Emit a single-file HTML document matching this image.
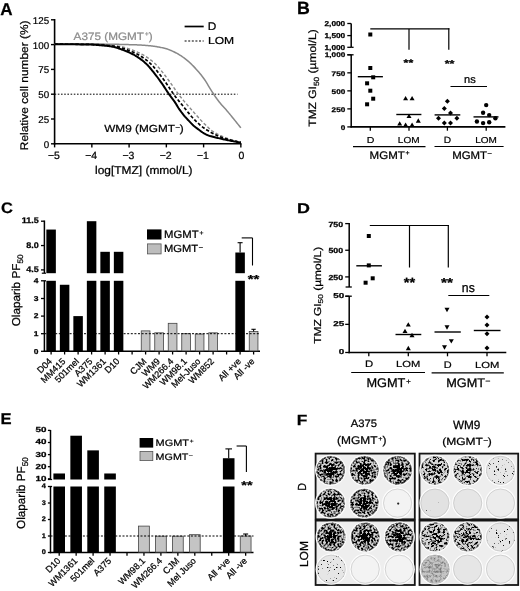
<!DOCTYPE html>
<html><head><meta charset="utf-8"><title>Figure</title>
<style>html,body{margin:0;padding:0;background:#fff;width:520px;height:591px;overflow:hidden}svg{display:block}text{font-family:"Liberation Sans",Arial,Helvetica,sans-serif;text-rendering:geometricPrecision}</style>
</head><body>
<svg width="520" height="591" viewBox="0 0 520 591"><defs><radialGradient id="rgD" cx="0.5" cy="0.5" r="0.5"><stop offset="0" stop-opacity="1"/><stop offset="0.35" stop-opacity="0.75"/><stop offset="0.6" stop-opacity="0.45"/><stop offset="0.85" stop-opacity="0.45"/><stop offset="1" stop-opacity="0.85"/></radialGradient><clipPath id="cc" clipPathUnits="objectBoundingBox"><circle cx="0.5" cy="0.5" r="0.5"/></clipPath><filter id="f1" x="315.2" y="454.9" width="30.8" height="30.8" filterUnits="userSpaceOnUse" color-interpolation-filters="sRGB"><feTurbulence type="fractalNoise" baseFrequency="0.5" numOctaves="3" seed="2" result="n"/><feColorMatrix in="n" type="matrix" values="0 0 0 0 0 0 0 0 0 0 0 0 0 0 0 1 0 0 0 0" result="na"/><feComposite in="na" in2="SourceAlpha" operator="arithmetic" k1="0" k2="1" k3="0.34" k4="0"/><feComponentTransfer><feFuncA type="linear" slope="6" intercept="-3.570"/></feComponentTransfer><feGaussianBlur stdDeviation="0.4"/></filter><filter id="f2" x="348.9" y="454.9" width="30.8" height="30.8" filterUnits="userSpaceOnUse" color-interpolation-filters="sRGB"><feTurbulence type="fractalNoise" baseFrequency="0.5" numOctaves="3" seed="3" result="n"/><feColorMatrix in="n" type="matrix" values="0 0 0 0 0 0 0 0 0 0 0 0 0 0 0 1 0 0 0 0" result="na"/><feComposite in="na" in2="SourceAlpha" operator="arithmetic" k1="0" k2="1" k3="0.34" k4="0"/><feComponentTransfer><feFuncA type="linear" slope="6" intercept="-3.570"/></feComponentTransfer><feGaussianBlur stdDeviation="0.4"/></filter><filter id="f3" x="382.2" y="454.9" width="30.8" height="30.8" filterUnits="userSpaceOnUse" color-interpolation-filters="sRGB"><feTurbulence type="fractalNoise" baseFrequency="0.5" numOctaves="3" seed="4" result="n"/><feColorMatrix in="n" type="matrix" values="0 0 0 0 0 0 0 0 0 0 0 0 0 0 0 1 0 0 0 0" result="na"/><feComposite in="na" in2="SourceAlpha" operator="arithmetic" k1="0" k2="1" k3="0.34" k4="0"/><feComponentTransfer><feFuncA type="linear" slope="6" intercept="-3.570"/></feComponentTransfer><feGaussianBlur stdDeviation="0.4"/></filter><filter id="f4" x="315.2" y="487.7" width="30.8" height="30.8" filterUnits="userSpaceOnUse" color-interpolation-filters="sRGB"><feTurbulence type="fractalNoise" baseFrequency="0.5" numOctaves="3" seed="5" result="n"/><feColorMatrix in="n" type="matrix" values="0 0 0 0 0 0 0 0 0 0 0 0 0 0 0 1 0 0 0 0" result="na"/><feComposite in="na" in2="SourceAlpha" operator="arithmetic" k1="0" k2="1" k3="0.34" k4="0"/><feComponentTransfer><feFuncA type="linear" slope="6" intercept="-3.570"/></feComponentTransfer><feGaussianBlur stdDeviation="0.4"/></filter><filter id="f5" x="348.9" y="487.7" width="30.8" height="30.8" filterUnits="userSpaceOnUse" color-interpolation-filters="sRGB"><feTurbulence type="fractalNoise" baseFrequency="0.5" numOctaves="3" seed="6" result="n"/><feColorMatrix in="n" type="matrix" values="0 0 0 0 0 0 0 0 0 0 0 0 0 0 0 1 0 0 0 0" result="na"/><feComposite in="na" in2="SourceAlpha" operator="arithmetic" k1="0" k2="1" k3="0.34" k4="0"/><feComponentTransfer><feFuncA type="linear" slope="6" intercept="-3.570"/></feComponentTransfer><feGaussianBlur stdDeviation="0.4"/></filter><filter id="f6" x="315.8" y="521.6" width="30.8" height="30.8" filterUnits="userSpaceOnUse" color-interpolation-filters="sRGB"><feTurbulence type="fractalNoise" baseFrequency="0.5" numOctaves="3" seed="8" result="n"/><feColorMatrix in="n" type="matrix" values="0 0 0 0 0 0 0 0 0 0 0 0 0 0 0 1 0 0 0 0" result="na"/><feComposite in="na" in2="SourceAlpha" operator="arithmetic" k1="0" k2="1" k3="0.34" k4="0"/><feComponentTransfer><feFuncA type="linear" slope="6" intercept="-3.570"/></feComponentTransfer><feGaussianBlur stdDeviation="0.4"/></filter><filter id="f7" x="349.8" y="521.6" width="30.8" height="30.8" filterUnits="userSpaceOnUse" color-interpolation-filters="sRGB"><feTurbulence type="fractalNoise" baseFrequency="0.5" numOctaves="3" seed="9" result="n"/><feColorMatrix in="n" type="matrix" values="0 0 0 0 0 0 0 0 0 0 0 0 0 0 0 1 0 0 0 0" result="na"/><feComposite in="na" in2="SourceAlpha" operator="arithmetic" k1="0" k2="1" k3="0.34" k4="0"/><feComponentTransfer><feFuncA type="linear" slope="6" intercept="-3.570"/></feComponentTransfer><feGaussianBlur stdDeviation="0.4"/></filter><filter id="f8" x="383.9" y="521.6" width="30.8" height="30.8" filterUnits="userSpaceOnUse" color-interpolation-filters="sRGB"><feTurbulence type="fractalNoise" baseFrequency="0.5" numOctaves="3" seed="10" result="n"/><feColorMatrix in="n" type="matrix" values="0 0 0 0 0 0 0 0 0 0 0 0 0 0 0 1 0 0 0 0" result="na"/><feComposite in="na" in2="SourceAlpha" operator="arithmetic" k1="0" k2="1" k3="0.34" k4="0"/><feComponentTransfer><feFuncA type="linear" slope="6" intercept="-3.570"/></feComponentTransfer><feGaussianBlur stdDeviation="0.4"/></filter><filter id="f9" x="315.8" y="553.8" width="30.8" height="30.8" filterUnits="userSpaceOnUse" color-interpolation-filters="sRGB"><feTurbulence type="fractalNoise" baseFrequency="0.55" numOctaves="3" seed="11" result="n"/><feColorMatrix in="n" type="matrix" values="0 0 0 0 0 0 0 0 0 0 0 0 0 0 0 1 0 0 0 0" result="na"/><feComposite in="na" in2="SourceAlpha" operator="arithmetic" k1="0" k2="1" k3="0.12" k4="0"/><feComponentTransfer><feFuncA type="linear" slope="10" intercept="-7.500"/></feComponentTransfer><feGaussianBlur stdDeviation="0.4"/></filter><filter id="f10" x="419.5" y="454.9" width="30.8" height="30.8" filterUnits="userSpaceOnUse" color-interpolation-filters="sRGB"><feTurbulence type="fractalNoise" baseFrequency="0.42" numOctaves="3" seed="14" result="n"/><feColorMatrix in="n" type="matrix" values="0 0 0 0 0 0 0 0 0 0 0 0 0 0 0 1 0 0 0 0" result="na"/><feComposite in="na" in2="SourceAlpha" operator="arithmetic" k1="0" k2="1" k3="0.22" k4="0"/><feComponentTransfer><feFuncA type="linear" slope="6" intercept="-3.510"/></feComponentTransfer><feGaussianBlur stdDeviation="0.4"/></filter><filter id="f11" x="452.3" y="454.9" width="30.8" height="30.8" filterUnits="userSpaceOnUse" color-interpolation-filters="sRGB"><feTurbulence type="fractalNoise" baseFrequency="0.42" numOctaves="3" seed="15" result="n"/><feColorMatrix in="n" type="matrix" values="0 0 0 0 0 0 0 0 0 0 0 0 0 0 0 1 0 0 0 0" result="na"/><feComposite in="na" in2="SourceAlpha" operator="arithmetic" k1="0" k2="1" k3="0.22" k4="0"/><feComponentTransfer><feFuncA type="linear" slope="6" intercept="-3.510"/></feComponentTransfer><feGaussianBlur stdDeviation="0.4"/></filter><filter id="f12" x="485.1" y="454.9" width="30.8" height="30.8" filterUnits="userSpaceOnUse" color-interpolation-filters="sRGB"><feTurbulence type="fractalNoise" baseFrequency="0.55" numOctaves="3" seed="16" result="n"/><feColorMatrix in="n" type="matrix" values="0 0 0 0 0 0 0 0 0 0 0 0 0 0 0 1 0 0 0 0" result="na"/><feComposite in="na" in2="SourceAlpha" operator="arithmetic" k1="0" k2="1" k3="0.12" k4="0"/><feComponentTransfer><feFuncA type="linear" slope="10" intercept="-7.500"/></feComponentTransfer><feGaussianBlur stdDeviation="0.4"/></filter><filter id="f13" x="419.5" y="487.7" width="30.8" height="30.8" filterUnits="userSpaceOnUse" color-interpolation-filters="sRGB"><feTurbulence type="fractalNoise" baseFrequency="0.5" numOctaves="3" seed="17" result="n"/><feColorMatrix in="n" type="matrix" values="0 0 0 0 0 0 0 0 0 0 0 0 0 0 0 1 0 0 0 0" result="na"/><feComposite in="na" in2="SourceAlpha" operator="arithmetic" k1="0" k2="1" k3="0.05" k4="0"/><feComponentTransfer><feFuncA type="linear" slope="16" intercept="-12.800"/></feComponentTransfer><feGaussianBlur stdDeviation="0.4"/></filter><filter id="f14" x="419.7" y="521.6" width="30.8" height="30.8" filterUnits="userSpaceOnUse" color-interpolation-filters="sRGB"><feTurbulence type="fractalNoise" baseFrequency="0.42" numOctaves="3" seed="20" result="n"/><feColorMatrix in="n" type="matrix" values="0 0 0 0 0 0 0 0 0 0 0 0 0 0 0 1 0 0 0 0" result="na"/><feComposite in="na" in2="SourceAlpha" operator="arithmetic" k1="0" k2="1" k3="0.22" k4="0"/><feComponentTransfer><feFuncA type="linear" slope="6" intercept="-3.510"/></feComponentTransfer><feGaussianBlur stdDeviation="0.4"/></filter><filter id="f15" x="452.2" y="521.6" width="30.8" height="30.8" filterUnits="userSpaceOnUse" color-interpolation-filters="sRGB"><feTurbulence type="fractalNoise" baseFrequency="0.42" numOctaves="3" seed="21" result="n"/><feColorMatrix in="n" type="matrix" values="0 0 0 0 0 0 0 0 0 0 0 0 0 0 0 1 0 0 0 0" result="na"/><feComposite in="na" in2="SourceAlpha" operator="arithmetic" k1="0" k2="1" k3="0.22" k4="0"/><feComponentTransfer><feFuncA type="linear" slope="6" intercept="-3.510"/></feComponentTransfer><feGaussianBlur stdDeviation="0.4"/></filter><filter id="f16" x="485.1" y="521.6" width="30.8" height="30.8" filterUnits="userSpaceOnUse" color-interpolation-filters="sRGB"><feTurbulence type="fractalNoise" baseFrequency="0.55" numOctaves="3" seed="22" result="n"/><feColorMatrix in="n" type="matrix" values="0 0 0 0 0 0 0 0 0 0 0 0 0 0 0 1 0 0 0 0" result="na"/><feComposite in="na" in2="SourceAlpha" operator="arithmetic" k1="0" k2="1" k3="0.12" k4="0"/><feComponentTransfer><feFuncA type="linear" slope="10" intercept="-7.500"/></feComponentTransfer><feGaussianBlur stdDeviation="0.4"/></filter><filter id="f17" x="419.7" y="553.8" width="30.8" height="30.8" filterUnits="userSpaceOnUse" color-interpolation-filters="sRGB"><feTurbulence type="fractalNoise" baseFrequency="0.45" numOctaves="3" seed="23" result="n"/><feColorMatrix in="n" type="matrix" values="0 0 0 0 0 0 0 0 0 0 0 0 0 0 0 1 0 0 0 0" result="na"/><feComposite in="na" in2="SourceAlpha" operator="arithmetic" k1="0" k2="1" k3="0.25" k4="0"/><feComponentTransfer><feFuncA type="linear" slope="1.0" intercept="-0.550"/></feComponentTransfer><feGaussianBlur stdDeviation="0.4"/></filter></defs><rect width="520" height="591" fill="#fff"/>
<text id="A" transform="translate(0.36 14.57) scale(0.9878 1)" font-size="17.27" text-anchor="start" font-weight="bold" fill="#000" stroke="#000" stroke-width="0.25">A</text>
<line x1="54.60" y1="19.00" x2="54.60" y2="144.55" stroke="#000" stroke-width="1.6" />
<line x1="53.85" y1="143.80" x2="241.45" y2="143.80" stroke="#000" stroke-width="1.6" />
<line x1="51.00" y1="19.80" x2="54.60" y2="19.80" stroke="#000" stroke-width="1.4" />
<text id="Ay125" transform="translate(49.15 23.82) scale(0.9929 1)" font-size="9.86" text-anchor="end" font-weight="normal" fill="#000" stroke="#000" stroke-width="0.217">125</text>
<line x1="51.00" y1="44.60" x2="54.60" y2="44.60" stroke="#000" stroke-width="1.4" />
<text id="Ay100" transform="translate(49.15 48.62) scale(0.9929 1)" font-size="9.86" text-anchor="end" font-weight="normal" fill="#000" stroke="#000" stroke-width="0.217">100</text>
<line x1="51.00" y1="69.40" x2="54.60" y2="69.40" stroke="#000" stroke-width="1.4" />
<text id="Ay75" transform="translate(49.15 73.42) scale(0.9929 1)" font-size="9.86" text-anchor="end" font-weight="normal" fill="#000" stroke="#000" stroke-width="0.217">75</text>
<line x1="51.00" y1="94.20" x2="54.60" y2="94.20" stroke="#000" stroke-width="1.4" />
<text id="Ay50" transform="translate(49.15 98.22) scale(0.9929 1)" font-size="9.86" text-anchor="end" font-weight="normal" fill="#000" stroke="#000" stroke-width="0.217">50</text>
<line x1="51.00" y1="119.00" x2="54.60" y2="119.00" stroke="#000" stroke-width="1.4" />
<text id="Ay25" transform="translate(49.15 123.02) scale(0.9929 1)" font-size="9.86" text-anchor="end" font-weight="normal" fill="#000" stroke="#000" stroke-width="0.217">25</text>
<line x1="51.00" y1="143.80" x2="54.60" y2="143.80" stroke="#000" stroke-width="1.4" />
<text id="Ay0" transform="translate(49.15 147.82) scale(0.9929 1)" font-size="9.86" text-anchor="end" font-weight="normal" fill="#000" stroke="#000" stroke-width="0.217">0</text>
<line x1="54.60" y1="143.80" x2="54.60" y2="147.40" stroke="#000" stroke-width="1.4" />
<text id="Ax0" transform="translate(53.88 158.77) scale(1.0049 1)" font-size="10.44" text-anchor="middle" font-weight="normal" fill="#000" stroke="#000" stroke-width="0.23">−5</text>
<line x1="91.85" y1="143.80" x2="91.85" y2="147.40" stroke="#000" stroke-width="1.4" />
<text id="Ax1" transform="translate(91.13 158.77) scale(1.0049 1)" font-size="10.44" text-anchor="middle" font-weight="normal" fill="#000" stroke="#000" stroke-width="0.23">−4</text>
<line x1="129.10" y1="143.80" x2="129.10" y2="147.40" stroke="#000" stroke-width="1.4" />
<text id="Ax2" transform="translate(128.38 158.77) scale(1.0049 1)" font-size="10.44" text-anchor="middle" font-weight="normal" fill="#000" stroke="#000" stroke-width="0.23">−3</text>
<line x1="166.35" y1="143.80" x2="166.35" y2="147.40" stroke="#000" stroke-width="1.4" />
<text id="Ax3" transform="translate(165.63 158.77) scale(1.0049 1)" font-size="10.44" text-anchor="middle" font-weight="normal" fill="#000" stroke="#000" stroke-width="0.23">−2</text>
<line x1="203.60" y1="143.80" x2="203.60" y2="147.40" stroke="#000" stroke-width="1.4" />
<text id="Ax4" transform="translate(202.88 158.77) scale(1.0049 1)" font-size="10.44" text-anchor="middle" font-weight="normal" fill="#000" stroke="#000" stroke-width="0.23">−1</text>
<line x1="240.85" y1="143.80" x2="240.85" y2="147.40" stroke="#000" stroke-width="1.4" />
<text id="Ax5" transform="translate(241.35 158.77) scale(1.0049 1)" font-size="10.44" text-anchor="middle" font-weight="normal" fill="#000" stroke="#000" stroke-width="0.23">0</text>
<text id="Aylab" transform="translate(28.06 85.34) rotate(-90) scale(1.0774 1)" font-size="11.05" text-anchor="middle" font-weight="normal" fill="#000" stroke="#000" stroke-width="0.243">Relative cell number (%)</text>
<text id="Axlab" transform="translate(143.78 173.51) scale(1.0530 1)" font-size="11.34" text-anchor="middle" font-weight="normal" fill="#000" stroke="#000" stroke-width="0.249">log[TMZ] (mmol/L)</text>
<line x1="54.60" y1="94.20" x2="237.50" y2="94.20" stroke="#000" stroke-width="1.0" stroke-dasharray="1.6,1.6"/>
<path d="M54.60,44.00 L55.53,44.00 L56.46,44.00 L57.39,44.00 L58.32,44.00 L59.26,44.00 L60.19,44.00 L61.12,44.00 L62.05,44.00 L62.98,44.00 L63.91,44.00 L64.84,44.01 L65.77,44.01 L66.71,44.01 L67.64,44.01 L68.57,44.01 L69.50,44.01 L70.43,44.01 L71.36,44.01 L72.29,44.02 L73.22,44.02 L74.16,44.02 L75.09,44.02 L76.02,44.02 L76.95,44.03 L77.88,44.03 L78.81,44.03 L79.74,44.03 L80.68,44.03 L81.61,44.04 L82.54,44.04 L83.47,44.04 L84.40,44.04 L85.33,44.05 L86.26,44.05 L87.19,44.05 L88.13,44.06 L89.06,44.06 L89.99,44.06 L90.92,44.07 L91.85,44.07 L92.78,44.07 L93.71,44.08 L94.64,44.08 L95.58,44.08 L96.51,44.09 L97.44,44.09 L98.37,44.09 L99.30,44.10 L100.23,44.10 L101.16,44.11 L102.09,44.11 L103.02,44.12 L103.96,44.12 L104.89,44.13 L105.82,44.14 L106.75,44.15 L107.68,44.16 L108.61,44.18 L109.54,44.19 L110.47,44.20 L111.41,44.22 L112.34,44.23 L113.27,44.25 L114.20,44.26 L115.13,44.28 L116.06,44.30 L116.99,44.32 L117.93,44.34 L118.86,44.36 L119.79,44.38 L120.72,44.40 L121.65,44.42 L122.58,44.45 L123.51,44.47 L124.44,44.50 L125.38,44.52 L126.31,44.55 L127.24,44.57 L128.17,44.60 L129.10,44.63 L130.03,44.65 L130.96,44.68 L131.89,44.71 L132.83,44.74 L133.76,44.77 L134.69,44.80 L135.62,44.84 L136.55,44.87 L137.48,44.91 L138.41,44.96 L139.34,45.01 L140.28,45.06 L141.21,45.11 L142.14,45.17 L143.07,45.23 L144.00,45.30 L144.93,45.37 L145.86,45.44 L146.79,45.51 L147.72,45.59 L148.66,45.68 L149.59,45.76 L150.52,45.85 L151.45,45.95 L152.38,46.06 L153.31,46.17 L154.24,46.30 L155.18,46.43 L156.11,46.58 L157.04,46.73 L157.97,46.89 L158.90,47.06 L159.83,47.24 L160.76,47.43 L161.69,47.63 L162.62,47.84 L163.56,48.05 L164.49,48.27 L165.42,48.50 L166.35,48.76 L167.28,49.04 L168.21,49.36 L169.14,49.70 L170.08,50.08 L171.01,50.47 L171.94,50.88 L172.87,51.32 L173.80,51.77 L174.73,52.24 L175.66,52.72 L176.59,53.21 L177.53,53.71 L178.46,54.22 L179.39,54.77 L180.32,55.35 L181.25,55.95 L182.18,56.59 L183.11,57.25 L184.04,57.94 L184.97,58.65 L185.91,59.38 L186.84,60.13 L187.77,60.89 L188.70,61.67 L189.63,62.49 L190.56,63.35 L191.49,64.24 L192.43,65.18 L193.36,66.14 L194.29,67.12 L195.22,68.13 L196.15,69.14 L197.08,70.18 L198.01,71.24 L198.94,72.32 L199.88,73.43 L200.81,74.57 L201.74,75.75 L202.67,76.97 L203.60,78.22 L204.53,79.54 L205.46,80.96 L206.39,82.44 L207.32,83.96 L208.26,85.52 L209.19,87.07 L210.12,88.61 L211.05,90.10 L211.98,91.54 L212.91,92.98 L213.84,94.42 L214.77,95.83 L215.71,97.22 L216.64,98.55 L217.57,99.83 L218.50,101.03 L219.43,102.19 L220.36,103.31 L221.29,104.39 L222.22,105.45 L223.16,106.50 L224.09,107.53 L225.02,108.57 L225.95,109.62 L226.88,110.68 L227.81,111.78 L228.74,112.89 L229.68,114.01 L230.61,115.14 L231.54,116.27 L232.47,117.41 L233.40,118.56 L234.33,119.70 L235.26,120.86 L236.19,122.02 L237.12,123.18 L238.06,124.35 L238.99,125.53 L239.92,126.71 L240.85,127.90" fill="none" stroke="#888" stroke-width="1.5"/>
<path d="M54.60,44.20 L55.53,44.20 L56.46,44.20 L57.39,44.20 L58.32,44.20 L59.26,44.20 L60.19,44.20 L61.12,44.21 L62.05,44.21 L62.98,44.21 L63.91,44.21 L64.84,44.22 L65.77,44.22 L66.71,44.22 L67.64,44.23 L68.57,44.23 L69.50,44.24 L70.43,44.24 L71.36,44.25 L72.29,44.25 L73.22,44.26 L74.16,44.26 L75.09,44.27 L76.02,44.28 L76.95,44.28 L77.88,44.29 L78.81,44.30 L79.74,44.31 L80.68,44.31 L81.61,44.32 L82.54,44.33 L83.47,44.34 L84.40,44.35 L85.33,44.36 L86.26,44.37 L87.19,44.39 L88.13,44.40 L89.06,44.41 L89.99,44.42 L90.92,44.43 L91.85,44.45 L92.78,44.46 L93.71,44.48 L94.64,44.49 L95.58,44.50 L96.51,44.52 L97.44,44.54 L98.37,44.55 L99.30,44.57 L100.23,44.59 L101.16,44.60 L102.09,44.63 L103.02,44.68 L103.96,44.75 L104.89,44.82 L105.82,44.90 L106.75,44.99 L107.68,45.08 L108.61,45.16 L109.54,45.25 L110.47,45.33 L111.41,45.42 L112.34,45.50 L113.27,45.59 L114.20,45.68 L115.13,45.78 L116.06,45.89 L116.99,46.00 L117.93,46.12 L118.86,46.25 L119.79,46.39 L120.72,46.54 L121.65,46.71 L122.58,46.92 L123.51,47.15 L124.44,47.40 L125.38,47.67 L126.31,47.97 L127.24,48.27 L128.17,48.59 L129.10,48.92 L130.03,49.25 L130.96,49.59 L131.89,49.93 L132.83,50.27 L133.76,50.62 L134.69,50.98 L135.62,51.36 L136.55,51.75 L137.48,52.15 L138.41,52.57 L139.34,53.00 L140.28,53.45 L141.21,53.92 L142.14,54.40 L143.07,54.90 L144.00,55.43 L144.93,55.98 L145.86,56.55 L146.79,57.15 L147.72,57.78 L148.66,58.44 L149.59,59.12 L150.52,59.83 L151.45,60.57 L152.38,61.33 L153.31,62.12 L154.24,62.94 L155.18,63.78 L156.11,64.67 L157.04,65.64 L157.97,66.68 L158.90,67.76 L159.83,68.89 L160.76,70.04 L161.69,71.21 L162.62,72.38 L163.56,73.55 L164.49,74.74 L165.42,75.96 L166.35,77.20 L167.28,78.47 L168.21,79.74 L169.14,81.03 L170.08,82.32 L171.01,83.61 L171.94,84.92 L172.87,86.26 L173.80,87.61 L174.73,88.98 L175.66,90.33 L176.59,91.66 L177.53,92.96 L178.46,94.21 L179.39,95.42 L180.32,96.60 L181.25,97.76 L182.18,98.91 L183.11,100.03 L184.04,101.15 L184.97,102.25 L185.91,103.33 L186.84,104.41 L187.77,105.48 L188.70,106.54 L189.63,107.60 L190.56,108.65 L191.49,109.70 L192.43,110.75 L193.36,111.80 L194.29,112.85 L195.22,113.91 L196.15,114.97 L197.08,116.02 L198.01,117.07 L198.94,118.10 L199.88,119.12 L200.81,120.13 L201.74,121.11 L202.67,122.07 L203.60,123.00 L204.53,123.92 L205.46,124.85 L206.39,125.77 L207.32,126.67 L208.26,127.56 L209.19,128.41 L210.12,129.23 L211.05,130.00 L211.98,130.72 L212.91,131.38 L213.84,131.98 L214.77,132.55 L215.71,133.09 L216.64,133.61 L217.57,134.11 L218.50,134.58 L219.43,135.04 L220.36,135.49 L221.29,135.91 L222.22,136.33 L223.16,136.73 L224.09,137.12 L225.02,137.51 L225.95,137.88 L226.88,138.25 L227.81,138.61 L228.74,138.95 L229.68,139.28 L230.61,139.60 L231.54,139.90 L232.47,140.19 L233.40,140.47 L234.33,140.74 L235.26,140.99 L236.19,141.24 L237.12,141.48 L238.06,141.70 L238.99,141.92 L239.92,142.12 L240.85,142.31" fill="none" stroke="#888" stroke-width="1.4" stroke-dasharray="3.2,2"/>
<path d="M54.60,44.20 L55.53,44.20 L56.46,44.20 L57.39,44.20 L58.32,44.20 L59.26,44.20 L60.19,44.21 L61.12,44.21 L62.05,44.21 L62.98,44.21 L63.91,44.22 L64.84,44.22 L65.77,44.23 L66.71,44.23 L67.64,44.23 L68.57,44.24 L69.50,44.25 L70.43,44.25 L71.36,44.26 L72.29,44.27 L73.22,44.27 L74.16,44.28 L75.09,44.29 L76.02,44.30 L76.95,44.31 L77.88,44.32 L78.81,44.33 L79.74,44.34 L80.68,44.35 L81.61,44.36 L82.54,44.37 L83.47,44.38 L84.40,44.39 L85.33,44.41 L86.26,44.42 L87.19,44.43 L88.13,44.45 L89.06,44.46 L89.99,44.48 L90.92,44.49 L91.85,44.51 L92.78,44.53 L93.71,44.55 L94.64,44.56 L95.58,44.58 L96.51,44.60 L97.44,44.63 L98.37,44.68 L99.30,44.74 L100.23,44.81 L101.16,44.89 L102.09,44.98 L103.02,45.06 L103.96,45.15 L104.89,45.23 L105.82,45.32 L106.75,45.40 L107.68,45.49 L108.61,45.58 L109.54,45.67 L110.47,45.77 L111.41,45.87 L112.34,45.98 L113.27,46.10 L114.20,46.23 L115.13,46.36 L116.06,46.51 L116.99,46.68 L117.93,46.88 L118.86,47.11 L119.79,47.36 L120.72,47.63 L121.65,47.92 L122.58,48.22 L123.51,48.54 L124.44,48.86 L125.38,49.19 L126.31,49.53 L127.24,49.87 L128.17,50.21 L129.10,50.56 L130.03,50.92 L130.96,51.29 L131.89,51.68 L132.83,52.08 L133.76,52.50 L134.69,52.93 L135.62,53.37 L136.55,53.84 L137.48,54.32 L138.41,54.82 L139.34,55.34 L140.28,55.88 L141.21,56.45 L142.14,57.05 L143.07,57.68 L144.00,58.33 L144.93,59.01 L145.86,59.71 L146.79,60.44 L147.72,61.20 L148.66,61.99 L149.59,62.80 L150.52,63.63 L151.45,64.52 L152.38,65.47 L153.31,66.50 L154.24,67.58 L155.18,68.70 L156.11,69.84 L157.04,71.01 L157.97,72.18 L158.90,73.35 L159.83,74.53 L160.76,75.74 L161.69,76.97 L162.62,78.22 L163.56,79.49 L164.49,80.78 L165.42,82.08 L166.35,83.39 L167.28,84.72 L168.21,86.11 L169.14,87.52 L170.08,88.95 L171.01,90.37 L171.94,91.77 L172.87,93.13 L173.80,94.44 L174.73,95.69 L175.66,96.92 L176.59,98.13 L177.53,99.31 L178.46,100.47 L179.39,101.63 L180.32,102.77 L181.25,103.91 L182.18,105.04 L183.11,106.17 L184.04,107.31 L184.97,108.46 L185.91,109.62 L186.84,110.79 L187.77,111.96 L188.70,113.12 L189.63,114.26 L190.56,115.39 L191.49,116.48 L192.43,117.53 L193.36,118.54 L194.29,119.50 L195.22,120.44 L196.15,121.35 L197.08,122.25 L198.01,123.12 L198.94,123.97 L199.88,124.79 L200.81,125.59 L201.74,126.35 L202.67,127.08 L203.60,127.77 L204.53,128.44 L205.46,129.07 L206.39,129.68 L207.32,130.27 L208.26,130.84 L209.19,131.38 L210.12,131.91 L211.05,132.42 L211.98,132.92 L212.91,133.41 L213.84,133.89 L214.77,134.36 L215.71,134.82 L216.64,135.26 L217.57,135.69 L218.50,136.11 L219.43,136.51 L220.36,136.88 L221.29,137.24 L222.22,137.58 L223.16,137.90 L224.09,138.21 L225.02,138.50 L225.95,138.79 L226.88,139.06 L227.81,139.32 L228.74,139.58 L229.68,139.83 L230.61,140.07 L231.54,140.31 L232.47,140.54 L233.40,140.78 L234.33,141.00 L235.26,141.22 L236.19,141.44 L237.12,141.64 L238.06,141.84 L238.99,142.04 L239.92,142.23 L240.85,142.41" fill="none" stroke="#000" stroke-width="1.7" stroke-dasharray="3.2,2"/>
<path d="M54.60,44.20 L55.53,44.20 L56.46,44.20 L57.39,44.20 L58.32,44.20 L59.26,44.21 L60.19,44.21 L61.12,44.21 L62.05,44.21 L62.98,44.22 L63.91,44.22 L64.84,44.23 L65.77,44.23 L66.71,44.24 L67.64,44.25 L68.57,44.25 L69.50,44.26 L70.43,44.27 L71.36,44.28 L72.29,44.29 L73.22,44.29 L74.16,44.30 L75.09,44.32 L76.02,44.33 L76.95,44.34 L77.88,44.35 L78.81,44.36 L79.74,44.38 L80.68,44.39 L81.61,44.40 L82.54,44.42 L83.47,44.43 L84.40,44.45 L85.33,44.47 L86.26,44.48 L87.19,44.50 L88.13,44.52 L89.06,44.54 L89.99,44.56 L90.92,44.58 L91.85,44.60 L92.78,44.62 L93.71,44.67 L94.64,44.73 L95.58,44.80 L96.51,44.88 L97.44,44.96 L98.37,45.05 L99.30,45.14 L100.23,45.22 L101.16,45.30 L102.09,45.39 L103.02,45.47 L103.96,45.56 L104.89,45.65 L105.82,45.75 L106.75,45.85 L107.68,45.96 L108.61,46.08 L109.54,46.20 L110.47,46.34 L111.41,46.48 L112.34,46.65 L113.27,46.85 L114.20,47.07 L115.13,47.31 L116.06,47.58 L116.99,47.87 L117.93,48.17 L118.86,48.48 L119.79,48.81 L120.72,49.14 L121.65,49.47 L122.58,49.81 L123.51,50.15 L124.44,50.50 L125.38,50.86 L126.31,51.23 L127.24,51.61 L128.17,52.01 L129.10,52.43 L130.03,52.85 L130.96,53.30 L131.89,53.76 L132.83,54.24 L133.76,54.73 L134.69,55.25 L135.62,55.79 L136.55,56.35 L137.48,56.95 L138.41,57.57 L139.34,58.22 L140.28,58.89 L141.21,59.59 L142.14,60.32 L143.07,61.07 L144.00,61.85 L144.93,62.66 L145.86,63.49 L146.79,64.36 L147.72,65.31 L148.66,66.32 L149.59,67.39 L150.52,68.51 L151.45,69.65 L152.38,70.81 L153.31,71.99 L154.24,73.15 L155.18,74.33 L156.11,75.53 L157.04,76.75 L157.97,78.00 L158.90,79.26 L159.83,80.55 L160.76,81.85 L161.69,83.16 L162.62,84.51 L163.56,85.90 L164.49,87.33 L165.42,88.78 L166.35,90.23 L167.28,91.66 L168.21,93.06 L169.14,94.40 L170.08,95.67 L171.01,96.89 L171.94,98.10 L172.87,99.31 L173.80,100.56 L174.73,101.89 L175.66,103.34 L176.59,104.88 L177.53,106.44 L178.46,107.96 L179.39,109.38 L180.32,110.70 L181.25,111.97 L182.18,113.19 L183.11,114.37 L184.04,115.51 L184.97,116.61 L185.91,117.67 L186.84,118.70 L187.77,119.70 L188.70,120.68 L189.63,121.66 L190.56,122.64 L191.49,123.60 L192.43,124.53 L193.36,125.40 L194.29,126.22 L195.22,126.98 L196.15,127.71 L197.08,128.41 L198.01,129.09 L198.94,129.78 L199.88,130.48 L200.81,131.18 L201.74,131.85 L202.67,132.48 L203.60,133.06 L204.53,133.59 L205.46,134.10 L206.39,134.58 L207.32,135.01 L208.26,135.38 L209.19,135.71 L210.12,136.00 L211.05,136.26 L211.98,136.51 L212.91,136.75 L213.84,136.99 L214.77,137.23 L215.71,137.47 L216.64,137.70 L217.57,137.92 L218.50,138.14 L219.43,138.36 L220.36,138.58 L221.29,138.79 L222.22,138.99 L223.16,139.20 L224.09,139.40 L225.02,139.60 L225.95,139.80 L226.88,140.00 L227.81,140.19 L228.74,140.38 L229.68,140.56 L230.61,140.75 L231.54,140.93 L232.47,141.10 L233.40,141.28 L234.33,141.46 L235.26,141.63 L236.19,141.80 L237.12,141.96 L238.06,142.13 L238.99,142.29 L239.92,142.45 L240.85,142.61" fill="none" stroke="#000" stroke-width="2.0"/>
<line x1="184.60" y1="26.50" x2="203.70" y2="26.50" stroke="#000" stroke-width="1.7" />
<text id="AlegD" transform="translate(207.86 30.40) scale(1.0585 1)" font-size="11.19" text-anchor="start" font-weight="normal" fill="#000" stroke="#000" stroke-width="0.246">D</text>
<line x1="184.60" y1="41.00" x2="203.70" y2="41.00" stroke="#000" stroke-width="1.2" stroke-dasharray="2,1.6"/>
<text id="AlegL" transform="translate(207.99 44.27) scale(1.1884 1)" font-size="10.18" text-anchor="start" font-weight="normal" fill="#000" stroke="#000" stroke-width="0.224">LOM</text>
<text id="Aa375" transform="translate(73.61 39.64) scale(1.0853 1)" font-size="10.80" text-anchor="start" font-weight="normal" fill="#8c8c8c" stroke="#8c8c8c" stroke-width="0.238">A375 (MGMT<tspan font-size="6.48" dx="0.76" dy="-3.24">+</tspan><tspan dy="3.24">)</tspan></text>
<text id="Awm9" transform="translate(104.24 132.07) scale(1.1519 1)" font-size="10.24" text-anchor="start" font-weight="normal" fill="#000" stroke="#000" stroke-width="0.225">WM9 (MGMT<tspan font-size="6.14" dx="0.72" dy="-3.07">–</tspan><tspan dy="3.07">)</tspan></text>
<text id="B" transform="translate(297.05 14.27) scale(1.0071 1)" font-size="17.67" text-anchor="start" font-weight="bold" fill="#000" stroke="#000" stroke-width="0.25">B</text>
<line x1="351.20" y1="23.50" x2="351.20" y2="47.30" stroke="#000" stroke-width="1.5" />
<line x1="347.30" y1="23.50" x2="351.20" y2="23.50" stroke="#000" stroke-width="1.3" />
<text id="By2000" transform="translate(345.24 26.25) scale(1.1574 1)" font-size="7.17" text-anchor="end" font-weight="bold" fill="#000" stroke="#000" stroke-width="0.25">2,000</text>
<line x1="347.30" y1="35.60" x2="351.20" y2="35.60" stroke="#000" stroke-width="1.3" />
<text id="By1500" transform="translate(345.24 38.35) scale(1.1574 1)" font-size="7.17" text-anchor="end" font-weight="bold" fill="#000" stroke="#000" stroke-width="0.25">1,500</text>
<line x1="347.30" y1="47.30" x2="351.20" y2="47.30" stroke="#000" stroke-width="1.3" />
<text id="By1000" transform="translate(345.24 50.05) scale(1.1574 1)" font-size="7.17" text-anchor="end" font-weight="bold" fill="#000" stroke="#000" stroke-width="0.25">1,000</text>
<line x1="351.20" y1="47.30" x2="353.60" y2="47.30" stroke="#000" stroke-width="1.3" />
<line x1="351.20" y1="54.80" x2="351.20" y2="127.60" stroke="#000" stroke-width="1.5" />
<line x1="347.30" y1="54.80" x2="353.60" y2="54.80" stroke="#000" stroke-width="1.3" />
<line x1="347.30" y1="54.82" x2="351.20" y2="54.82" stroke="#000" stroke-width="1.3" />
<text id="Byl1000" transform="translate(345.23 57.49) scale(1.2209 1)" font-size="6.70" text-anchor="end" font-weight="bold" fill="#000" stroke="#000" stroke-width="0.25">1,000</text>
<line x1="347.30" y1="72.84" x2="351.20" y2="72.84" stroke="#000" stroke-width="1.3" />
<text id="Byl750" transform="translate(345.23 75.51) scale(1.2209 1)" font-size="6.70" text-anchor="end" font-weight="bold" fill="#000" stroke="#000" stroke-width="0.25">750</text>
<line x1="347.30" y1="90.86" x2="351.20" y2="90.86" stroke="#000" stroke-width="1.3" />
<text id="Byl500" transform="translate(345.23 93.53) scale(1.2209 1)" font-size="6.70" text-anchor="end" font-weight="bold" fill="#000" stroke="#000" stroke-width="0.25">500</text>
<line x1="347.30" y1="108.88" x2="351.20" y2="108.88" stroke="#000" stroke-width="1.3" />
<text id="Byl250" transform="translate(345.23 111.55) scale(1.2209 1)" font-size="6.70" text-anchor="end" font-weight="bold" fill="#000" stroke="#000" stroke-width="0.25">250</text>
<line x1="347.30" y1="126.90" x2="351.20" y2="126.90" stroke="#000" stroke-width="1.3" />
<text id="Byl0" transform="translate(345.23 129.57) scale(1.2209 1)" font-size="6.70" text-anchor="end" font-weight="bold" fill="#000" stroke="#000" stroke-width="0.25">0</text>
<line x1="350.50" y1="126.90" x2="505.40" y2="126.90" stroke="#000" stroke-width="1.6" />
<line x1="370.30" y1="126.90" x2="370.30" y2="130.70" stroke="#000" stroke-width="1.3" />
<text id="Bc0" transform="translate(370.46 143.21) scale(1.2185 1)" font-size="8.69" text-anchor="middle" font-weight="normal" fill="#000" stroke="#000" stroke-width="0.191">D</text>
<line x1="409.00" y1="126.90" x2="409.00" y2="130.70" stroke="#000" stroke-width="1.3" />
<text id="Bc1" transform="translate(408.69 142.65) scale(1.1585 1)" font-size="8.66" text-anchor="middle" font-weight="normal" fill="#000" stroke="#000" stroke-width="0.191">LOM</text>
<line x1="447.40" y1="126.90" x2="447.40" y2="130.70" stroke="#000" stroke-width="1.3" />
<text id="Bc2" transform="translate(447.53 143.11) scale(1.1399 1)" font-size="8.95" text-anchor="middle" font-weight="normal" fill="#000" stroke="#000" stroke-width="0.197">D</text>
<line x1="486.20" y1="126.90" x2="486.20" y2="130.70" stroke="#000" stroke-width="1.3" />
<text id="Bc3" transform="translate(486.04 143.12) scale(1.1630 1)" font-size="8.61" text-anchor="middle" font-weight="normal" fill="#000" stroke="#000" stroke-width="0.189">LOM</text>
<line x1="353.00" y1="146.70" x2="425.50" y2="146.70" stroke="#000" stroke-width="1.2" />
<line x1="434.50" y1="146.50" x2="503.60" y2="146.50" stroke="#000" stroke-width="1.2" />
<text id="Bg0" transform="translate(389.60 158.60) scale(1.0516 1)" font-size="10.95" text-anchor="middle" font-weight="normal" fill="#000" stroke="#000" stroke-width="0.241">MGMT<tspan font-size="6.57" dx="0.77" dy="-3.29">+</tspan></text>
<text id="Bg1" transform="translate(471.90 158.78) scale(1.0415 1)" font-size="10.98" text-anchor="middle" font-weight="normal" fill="#000" stroke="#000" stroke-width="0.242">MGMT<tspan font-size="6.59" dx="0.77" dy="-3.29">–</tspan></text>
<text id="Bylab" transform="translate(315.81 77.99) rotate(-90) scale(1.1284 1)" font-size="10.62" text-anchor="middle" font-weight="normal" fill="#000" stroke="#000" stroke-width="0.234">TMZ GI<tspan font-size="7.43" dy="2.76">50</tspan><tspan dy="-2.76"> (µmol/L)</tspan></text>
<line x1="370.30" y1="28.90" x2="449.40" y2="28.90" stroke="#000" stroke-width="1.2" />
<line x1="409.00" y1="28.90" x2="409.00" y2="49.80" stroke="#000" stroke-width="1.2" />
<line x1="448.80" y1="28.30" x2="448.80" y2="49.80" stroke="#000" stroke-width="1.2" />
<text id="Bs0" transform="translate(408.42 66.04) scale(1.2681 1)" font-size="9.75" text-anchor="middle" font-weight="bold" fill="#000" stroke="#000" stroke-width="0.25">**</text>
<text id="Bs1" transform="translate(449.62 66.53) scale(1.2551 1)" font-size="10.06" text-anchor="middle" font-weight="bold" fill="#000" stroke="#000" stroke-width="0.25">**</text>
<text id="Bns" transform="translate(469.84 83.49) scale(1.0069 1)" font-size="11.00" text-anchor="middle" font-weight="normal" fill="#000" stroke="#000" stroke-width="0.242">ns</text>
<line x1="450.50" y1="86.50" x2="487.00" y2="86.50" stroke="#000" stroke-width="1.2" />
<rect x="368.30" y="32.50" width="4.00" height="4.00" fill="#000" stroke="none" stroke-width="0" />
<rect x="368.30" y="66.00" width="4.00" height="4.00" fill="#000" stroke="none" stroke-width="0" />
<rect x="371.20" y="75.30" width="4.00" height="4.00" fill="#000" stroke="none" stroke-width="0" />
<rect x="365.10" y="81.30" width="4.00" height="4.00" fill="#000" stroke="none" stroke-width="0" />
<rect x="368.30" y="88.70" width="4.00" height="4.00" fill="#000" stroke="none" stroke-width="0" />
<rect x="371.20" y="96.70" width="4.00" height="4.00" fill="#000" stroke="none" stroke-width="0" />
<rect x="365.10" y="102.30" width="4.00" height="4.00" fill="#000" stroke="none" stroke-width="0" />
<line x1="357.80" y1="76.70" x2="382.90" y2="76.70" stroke="#000" stroke-width="1.4" />
<path d="M403.10,100.25 L408.10,100.25 L405.60,95.95Z" fill="#000"/>
<path d="M409.60,100.25 L414.60,100.25 L412.10,95.95Z" fill="#000"/>
<path d="M406.50,117.95 L411.50,117.95 L409.00,113.65Z" fill="#000"/>
<path d="M415.80,122.65 L420.80,122.65 L418.30,118.35Z" fill="#000"/>
<path d="M397.20,125.45 L402.20,125.45 L399.70,121.15Z" fill="#000"/>
<path d="M403.10,126.75 L408.10,126.75 L405.60,122.45Z" fill="#000"/>
<path d="M409.60,126.75 L414.60,126.75 L412.10,122.45Z" fill="#000"/>
<line x1="396.30" y1="114.50" x2="421.40" y2="114.50" stroke="#000" stroke-width="1.4" />
<path d="M447.40,98.70 L449.90,101.20 L447.40,103.70 L444.90,101.20Z" fill="#000"/>
<path d="M444.30,106.00 L446.80,108.50 L444.30,111.00 L441.80,108.50Z" fill="#000"/>
<path d="M450.50,110.60 L453.00,113.10 L450.50,115.60 L448.00,113.10Z" fill="#000"/>
<path d="M438.50,115.70 L441.00,118.20 L438.50,120.70 L436.00,118.20Z" fill="#000"/>
<path d="M456.90,115.70 L459.40,118.20 L456.90,120.70 L454.40,118.20Z" fill="#000"/>
<path d="M444.30,120.60 L446.80,123.10 L444.30,125.60 L441.80,123.10Z" fill="#000"/>
<path d="M450.50,120.60 L453.00,123.10 L450.50,125.60 L448.00,123.10Z" fill="#000"/>
<line x1="434.60" y1="114.90" x2="460.30" y2="114.90" stroke="#000" stroke-width="1.4" />
<circle cx="486.20" cy="105.10" r="2.2" fill="#000"/>
<circle cx="483.10" cy="112.80" r="2.2" fill="#000"/>
<circle cx="489.20" cy="115.10" r="2.2" fill="#000"/>
<circle cx="495.40" cy="118.20" r="2.2" fill="#000"/>
<circle cx="476.90" cy="121.50" r="2.2" fill="#000"/>
<circle cx="483.10" cy="123.10" r="2.2" fill="#000"/>
<circle cx="489.20" cy="122.30" r="2.2" fill="#000"/>
<line x1="473.50" y1="116.90" x2="498.50" y2="116.90" stroke="#000" stroke-width="1.4" />
<text id="C" transform="translate(0.88 213.38) scale(1.0796 1)" font-size="15.22" text-anchor="start" font-weight="bold" fill="#000" stroke="#000" stroke-width="0.25">C</text>
<line x1="44.40" y1="220.50" x2="44.40" y2="273.20" stroke="#000" stroke-width="1.5" />
<line x1="41.80" y1="273.20" x2="46.00" y2="273.20" stroke="#000" stroke-width="1.2" />
<line x1="41.00" y1="221.20" x2="44.40" y2="221.20" stroke="#000" stroke-width="1.3" />
<text id="Cyu115" transform="translate(38.82 223.35) scale(1.1054 1)" font-size="8.19" text-anchor="end" font-weight="bold" fill="#000" stroke="#000" stroke-width="0.25">11.5</text>
<line x1="41.00" y1="245.55" x2="44.40" y2="245.55" stroke="#000" stroke-width="1.3" />
<text id="Cyu80" transform="translate(38.82 247.70) scale(1.1054 1)" font-size="8.19" text-anchor="end" font-weight="bold" fill="#000" stroke="#000" stroke-width="0.25">8.0</text>
<line x1="41.00" y1="269.90" x2="44.40" y2="269.90" stroke="#000" stroke-width="1.3" />
<text id="Cyu45" transform="translate(38.82 272.05) scale(1.1054 1)" font-size="8.19" text-anchor="end" font-weight="bold" fill="#000" stroke="#000" stroke-width="0.25">4.5</text>
<line x1="44.40" y1="280.80" x2="44.40" y2="352.00" stroke="#000" stroke-width="1.5" />
<line x1="41.00" y1="280.80" x2="46.00" y2="280.80" stroke="#000" stroke-width="1.3" />
<line x1="41.00" y1="351.30" x2="44.40" y2="351.30" stroke="#000" stroke-width="1.3" />
<text id="Cyl0" transform="translate(38.38 353.59) scale(1.2010 1)" font-size="7.05" text-anchor="end" font-weight="bold" fill="#000" stroke="#000" stroke-width="0.25">0</text>
<line x1="41.00" y1="333.70" x2="44.40" y2="333.70" stroke="#000" stroke-width="1.3" />
<text id="Cyl1" transform="translate(38.38 335.99) scale(1.2010 1)" font-size="7.05" text-anchor="end" font-weight="bold" fill="#000" stroke="#000" stroke-width="0.25">1</text>
<line x1="41.00" y1="316.10" x2="44.40" y2="316.10" stroke="#000" stroke-width="1.3" />
<text id="Cyl2" transform="translate(38.38 318.39) scale(1.2010 1)" font-size="7.05" text-anchor="end" font-weight="bold" fill="#000" stroke="#000" stroke-width="0.25">2</text>
<line x1="41.00" y1="298.50" x2="44.40" y2="298.50" stroke="#000" stroke-width="1.3" />
<text id="Cyl3" transform="translate(38.38 300.79) scale(1.2010 1)" font-size="7.05" text-anchor="end" font-weight="bold" fill="#000" stroke="#000" stroke-width="0.25">3</text>
<text id="Cyl4" transform="translate(38.38 283.09) scale(1.2010 1)" font-size="7.05" text-anchor="end" font-weight="bold" fill="#000" stroke="#000" stroke-width="0.25">4</text>
<line x1="43.70" y1="351.30" x2="260.00" y2="351.30" stroke="#000" stroke-width="1.5" />
<line x1="51.10" y1="351.30" x2="51.10" y2="354.50" stroke="#000" stroke-width="1.3" />
<text id="LC0" transform="translate(52.60 362.00) rotate(-45) scale(1 1)" font-size="9.15" text-anchor="end" stroke="#000" stroke-width="0.24">D04</text>
<rect x="46.35" y="280.80" width="9.50" height="70.50" fill="#000" stroke="none" stroke-width="0" />
<rect x="46.35" y="229.55" width="9.50" height="43.65" fill="#000" stroke="none" stroke-width="0" />
<line x1="64.60" y1="351.30" x2="64.60" y2="354.50" stroke="#000" stroke-width="1.3" />
<text id="LC1" transform="translate(66.10 362.00) rotate(-45) scale(1 1)" font-size="9.15" text-anchor="end" stroke="#000" stroke-width="0.24">MM415</text>
<rect x="59.85" y="284.77" width="9.50" height="66.53" fill="#000" stroke="none" stroke-width="0" />
<line x1="78.10" y1="351.30" x2="78.10" y2="354.50" stroke="#000" stroke-width="1.3" />
<text id="LC2" transform="translate(79.60 362.00) rotate(-45) scale(1 1)" font-size="9.15" text-anchor="end" stroke="#000" stroke-width="0.24">501mel</text>
<rect x="73.35" y="316.10" width="9.50" height="35.20" fill="#000" stroke="none" stroke-width="0" />
<line x1="91.60" y1="351.30" x2="91.60" y2="354.50" stroke="#000" stroke-width="1.3" />
<text id="LC3" transform="translate(93.10 362.00) rotate(-45) scale(1 1)" font-size="9.15" text-anchor="end" stroke="#000" stroke-width="0.24">A375</text>
<rect x="86.85" y="280.80" width="9.50" height="70.50" fill="#000" stroke="none" stroke-width="0" />
<rect x="86.85" y="221.20" width="9.50" height="52.00" fill="#000" stroke="none" stroke-width="0" />
<line x1="105.10" y1="351.30" x2="105.10" y2="354.50" stroke="#000" stroke-width="1.3" />
<text id="LC4" transform="translate(106.60 362.00) rotate(-45) scale(1 1)" font-size="9.15" text-anchor="end" stroke="#000" stroke-width="0.24">WM1361</text>
<rect x="100.35" y="280.80" width="9.50" height="70.50" fill="#000" stroke="none" stroke-width="0" />
<rect x="100.35" y="251.81" width="9.50" height="21.39" fill="#000" stroke="none" stroke-width="0" />
<line x1="118.60" y1="351.30" x2="118.60" y2="354.50" stroke="#000" stroke-width="1.3" />
<text id="LC5" transform="translate(120.10 362.00) rotate(-45) scale(1 1)" font-size="9.15" text-anchor="end" stroke="#000" stroke-width="0.24">D10</text>
<rect x="113.85" y="280.80" width="9.50" height="70.50" fill="#000" stroke="none" stroke-width="0" />
<rect x="113.85" y="251.81" width="9.50" height="21.39" fill="#000" stroke="none" stroke-width="0" />
<line x1="132.10" y1="351.30" x2="132.10" y2="354.50" stroke="#000" stroke-width="1.3" />
<line x1="145.60" y1="351.30" x2="145.60" y2="354.50" stroke="#000" stroke-width="1.3" />
<text id="LC7" transform="translate(147.10 362.00) rotate(-45) scale(1 1)" font-size="9.15" text-anchor="end" stroke="#000" stroke-width="0.24">CJM</text>
<rect x="141.25" y="330.88" width="8.70" height="20.02" fill="#c4c4c4" stroke="#444" stroke-width="0.8" />
<line x1="159.10" y1="351.30" x2="159.10" y2="354.50" stroke="#000" stroke-width="1.3" />
<text id="LC8" transform="translate(160.60 362.00) rotate(-45) scale(1 1)" font-size="9.15" text-anchor="end" stroke="#000" stroke-width="0.24">WM9</text>
<rect x="154.75" y="332.82" width="8.70" height="18.08" fill="#c4c4c4" stroke="#444" stroke-width="0.8" />
<line x1="172.60" y1="351.30" x2="172.60" y2="354.50" stroke="#000" stroke-width="1.3" />
<text id="LC9" transform="translate(174.10 362.00) rotate(-45) scale(1 1)" font-size="9.15" text-anchor="end" stroke="#000" stroke-width="0.24">WM266.4</text>
<rect x="168.25" y="323.32" width="8.70" height="27.58" fill="#c4c4c4" stroke="#444" stroke-width="0.8" />
<line x1="186.10" y1="351.30" x2="186.10" y2="354.50" stroke="#000" stroke-width="1.3" />
<text id="LC10" transform="translate(187.60 362.00) rotate(-45) scale(1 1)" font-size="9.15" text-anchor="end" stroke="#000" stroke-width="0.24">WM98.1</text>
<rect x="181.75" y="333.70" width="8.70" height="17.20" fill="#c4c4c4" stroke="#444" stroke-width="0.8" />
<line x1="199.60" y1="351.30" x2="199.60" y2="354.50" stroke="#000" stroke-width="1.3" />
<text id="LC11" transform="translate(201.10 362.00) rotate(-45) scale(1 1)" font-size="9.15" text-anchor="end" stroke="#000" stroke-width="0.24">Mel-Juso</text>
<rect x="195.25" y="334.05" width="8.70" height="16.85" fill="#c4c4c4" stroke="#444" stroke-width="0.8" />
<line x1="213.10" y1="351.30" x2="213.10" y2="354.50" stroke="#000" stroke-width="1.3" />
<text id="LC12" transform="translate(214.60 362.00) rotate(-45) scale(1 1)" font-size="9.15" text-anchor="end" stroke="#000" stroke-width="0.24">WM852</text>
<rect x="208.75" y="332.82" width="8.70" height="18.08" fill="#c4c4c4" stroke="#444" stroke-width="0.8" />
<line x1="226.60" y1="351.30" x2="226.60" y2="354.50" stroke="#000" stroke-width="1.3" />
<line x1="240.10" y1="351.30" x2="240.10" y2="354.50" stroke="#000" stroke-width="1.3" />
<text id="LC14" transform="translate(241.60 362.00) rotate(-45) scale(1 1)" font-size="9.15" text-anchor="end" stroke="#000" stroke-width="0.24">All +ve</text>
<rect x="235.35" y="280.80" width="9.50" height="70.50" fill="#000" stroke="none" stroke-width="0" />
<rect x="235.35" y="252.51" width="9.50" height="20.69" fill="#000" stroke="none" stroke-width="0" />
<line x1="253.60" y1="351.30" x2="253.60" y2="354.50" stroke="#000" stroke-width="1.3" />
<text id="LC15" transform="translate(255.10 362.00) rotate(-45) scale(1 1)" font-size="9.15" text-anchor="end" stroke="#000" stroke-width="0.24">All -ve</text>
<rect x="249.25" y="331.59" width="8.70" height="19.31" fill="#c4c4c4" stroke="#444" stroke-width="0.8" />
<line x1="240.10" y1="252.51" x2="240.10" y2="242.70" stroke="#000" stroke-width="1.1" />
<line x1="237.60" y1="242.70" x2="242.60" y2="242.70" stroke="#000" stroke-width="1.1" />
<line x1="253.60" y1="331.59" x2="253.60" y2="329.30" stroke="#000" stroke-width="1.1" />
<line x1="251.40" y1="329.30" x2="255.80" y2="329.30" stroke="#000" stroke-width="1.1" />
<line x1="44.40" y1="333.70" x2="260.00" y2="333.70" stroke="#000" stroke-width="1.0" stroke-dasharray="2,1.6"/>
<rect x="147.00" y="229.40" width="14.50" height="10.10" fill="#000" stroke="none" stroke-width="0" />
<rect x="147.40" y="243.90" width="13.70" height="10.00" fill="#bdbdbd" stroke="#555" stroke-width="0.8" />
<text id="Cl0" transform="translate(164.00 237.96) scale(1.0555 1)" font-size="10.74" text-anchor="start" font-weight="normal" fill="#000" stroke="#000" stroke-width="0.236">MGMT<tspan font-size="6.44" dx="0.75" dy="-3.22">+</tspan></text>
<text id="Cl1" transform="translate(164.01 251.91) scale(1.0754 1)" font-size="10.40" text-anchor="start" font-weight="normal" fill="#000" stroke="#000" stroke-width="0.229">MGMT<tspan font-size="6.24" dx="0.73" dy="-3.12">–</tspan></text>
<line x1="241.70" y1="237.90" x2="252.50" y2="237.90" stroke="#000" stroke-width="1.1" />
<line x1="252.50" y1="237.90" x2="252.50" y2="265.50" stroke="#000" stroke-width="1.1" />
<text id="Cs" transform="translate(253.48 283.07) scale(1.2965 1)" font-size="11.52" text-anchor="middle" font-weight="bold" fill="#000" stroke="#000" stroke-width="0.25">**</text>
<text id="Cylab" transform="translate(19.52 290.36) rotate(-90) scale(1.0323 1)" font-size="11.42" text-anchor="middle" font-weight="normal" fill="#000" stroke="#000" stroke-width="0.251">Olaparib PF<tspan font-size="7.99" dy="2.97">50</tspan><tspan dy="-2.97"></tspan></text>
<text id="D" transform="translate(296.92 213.25) scale(1.2692 1)" font-size="14.10" text-anchor="start" font-weight="bold" fill="#000" stroke="#000" stroke-width="0.25">D</text>
<line x1="349.20" y1="223.00" x2="349.20" y2="287.00" stroke="#000" stroke-width="1.5" />
<line x1="345.60" y1="287.00" x2="351.80" y2="287.00" stroke="#000" stroke-width="1.3" />
<line x1="345.20" y1="223.60" x2="349.20" y2="223.60" stroke="#000" stroke-width="1.3" />
<text id="Dyu750" transform="translate(343.07 226.60) scale(1.1952 1)" font-size="7.35" text-anchor="end" font-weight="bold" fill="#000" stroke="#000" stroke-width="0.25">750</text>
<line x1="345.20" y1="250.25" x2="349.20" y2="250.25" stroke="#000" stroke-width="1.3" />
<text id="Dyu500" transform="translate(343.07 253.25) scale(1.1952 1)" font-size="7.35" text-anchor="end" font-weight="bold" fill="#000" stroke="#000" stroke-width="0.25">500</text>
<line x1="345.20" y1="276.90" x2="349.20" y2="276.90" stroke="#000" stroke-width="1.3" />
<text id="Dyu250" transform="translate(343.07 279.90) scale(1.1952 1)" font-size="7.35" text-anchor="end" font-weight="bold" fill="#000" stroke="#000" stroke-width="0.25">250</text>
<line x1="349.20" y1="296.20" x2="349.20" y2="353.20" stroke="#000" stroke-width="1.5" />
<line x1="345.40" y1="296.20" x2="351.80" y2="296.20" stroke="#000" stroke-width="1.3" />
<line x1="345.20" y1="296.20" x2="349.20" y2="296.20" stroke="#000" stroke-width="1.3" />
<text id="Dyl50" transform="translate(344.14 298.17) scale(1.3802 1)" font-size="7.17" text-anchor="end" font-weight="bold" fill="#000" stroke="#000" stroke-width="0.25">50</text>
<line x1="345.20" y1="324.35" x2="349.20" y2="324.35" stroke="#000" stroke-width="1.3" />
<text id="Dyl25" transform="translate(344.14 326.32) scale(1.3802 1)" font-size="7.17" text-anchor="end" font-weight="bold" fill="#000" stroke="#000" stroke-width="0.25">25</text>
<line x1="345.20" y1="352.50" x2="349.20" y2="352.50" stroke="#000" stroke-width="1.3" />
<text id="Dyl0" transform="translate(344.14 354.47) scale(1.3802 1)" font-size="7.17" text-anchor="end" font-weight="bold" fill="#000" stroke="#000" stroke-width="0.25">0</text>
<line x1="348.50" y1="352.50" x2="506.30" y2="352.50" stroke="#000" stroke-width="1.6" />
<line x1="368.80" y1="352.50" x2="368.80" y2="356.30" stroke="#000" stroke-width="1.3" />
<text id="Dc0" transform="translate(369.02 367.30) scale(1.1913 1)" font-size="9.51" text-anchor="middle" font-weight="normal" fill="#000" stroke="#000" stroke-width="0.209">D</text>
<line x1="408.30" y1="352.50" x2="408.30" y2="356.30" stroke="#000" stroke-width="1.3" />
<text id="Dc1" transform="translate(408.22 366.88) scale(1.2597 1)" font-size="8.89" text-anchor="middle" font-weight="normal" fill="#000" stroke="#000" stroke-width="0.196">LOM</text>
<line x1="447.50" y1="352.50" x2="447.50" y2="356.30" stroke="#000" stroke-width="1.3" />
<text id="Dc2" transform="translate(447.70 367.65) scale(1.1373 1)" font-size="9.62" text-anchor="middle" font-weight="normal" fill="#000" stroke="#000" stroke-width="0.212">D</text>
<line x1="487.00" y1="352.50" x2="487.00" y2="356.30" stroke="#000" stroke-width="1.3" />
<text id="Dc3" transform="translate(487.06 367.55) scale(1.2682 1)" font-size="8.87" text-anchor="middle" font-weight="normal" fill="#000" stroke="#000" stroke-width="0.195">LOM</text>
<line x1="351.20" y1="372.50" x2="425.00" y2="372.50" stroke="#000" stroke-width="1.2" />
<line x1="431.60" y1="372.80" x2="503.80" y2="372.80" stroke="#000" stroke-width="1.2" />
<text id="Dg0" transform="translate(388.56 387.39) scale(1.0116 1)" font-size="12.60" text-anchor="middle" font-weight="normal" fill="#000" stroke="#000" stroke-width="0.277">MGMT<tspan font-size="7.56" dx="0.88" dy="-3.78">+</tspan></text>
<text id="Dg1" transform="translate(468.15 387.09) scale(1.0173 1)" font-size="12.49" text-anchor="middle" font-weight="normal" fill="#000" stroke="#000" stroke-width="0.275">MGMT<tspan font-size="7.50" dx="0.87" dy="-3.75">–</tspan></text>
<text id="Dylab" transform="translate(320.70 295.30) rotate(-90) scale(1.1840 1)" font-size="10.08" text-anchor="middle" font-weight="normal" fill="#000" stroke="#000" stroke-width="0.222">TMZ GI<tspan font-size="7.06" dy="2.62">50</tspan><tspan dy="-2.62"> (µmol/L)</tspan></text>
<line x1="369.80" y1="225.50" x2="448.90" y2="225.50" stroke="#000" stroke-width="1.2" />
<line x1="409.50" y1="225.50" x2="409.50" y2="267.50" stroke="#000" stroke-width="1.2" />
<line x1="448.30" y1="224.90" x2="448.30" y2="267.50" stroke="#000" stroke-width="1.2" />
<text id="Ds0" transform="translate(409.39 286.78) scale(1.0994 1)" font-size="13.33" text-anchor="middle" font-weight="bold" fill="#000" stroke="#000" stroke-width="0.25">**</text>
<text id="Ds1" transform="translate(447.01 286.61) scale(1.1790 1)" font-size="13.08" text-anchor="middle" font-weight="bold" fill="#000" stroke="#000" stroke-width="0.25">**</text>
<text id="Dns" transform="translate(468.28 291.98) scale(0.9448 1)" font-size="12.94" text-anchor="middle" font-weight="normal" fill="#000" stroke="#000" stroke-width="0.285">ns</text>
<line x1="448.30" y1="295.50" x2="489.30" y2="295.50" stroke="#000" stroke-width="1.2" />
<rect x="366.80" y="234.00" width="4.00" height="4.00" fill="#000" stroke="none" stroke-width="0" />
<rect x="366.80" y="263.40" width="4.00" height="4.00" fill="#000" stroke="none" stroke-width="0" />
<rect x="370.70" y="276.30" width="4.00" height="4.00" fill="#000" stroke="none" stroke-width="0" />
<rect x="363.60" y="280.70" width="4.00" height="4.00" fill="#000" stroke="none" stroke-width="0" />
<line x1="356.30" y1="265.80" x2="381.90" y2="265.80" stroke="#000" stroke-width="1.4" />
<path d="M405.80,326.45 L410.80,326.45 L408.30,322.15Z" fill="#000"/>
<path d="M402.50,332.95 L407.50,332.95 L405.00,328.65Z" fill="#000"/>
<path d="M409.50,337.15 L414.50,337.15 L412.00,332.85Z" fill="#000"/>
<path d="M405.80,350.15 L410.80,350.15 L408.30,345.85Z" fill="#000"/>
<line x1="395.50" y1="334.50" x2="421.30" y2="334.50" stroke="#000" stroke-width="1.4" />
<path d="M444.50,307.85 L449.50,307.85 L447.00,312.15Z" fill="#000"/>
<path d="M444.50,325.35 L449.50,325.35 L447.00,329.65Z" fill="#000"/>
<path d="M448.80,339.15 L453.80,339.15 L451.30,343.45Z" fill="#000"/>
<path d="M442.00,345.35 L447.00,345.35 L444.50,349.65Z" fill="#000"/>
<line x1="434.50" y1="332.00" x2="460.80" y2="332.00" stroke="#000" stroke-width="1.4" />
<path d="M487.00,314.50 L489.50,317.00 L487.00,319.50 L484.50,317.00Z" fill="#000"/>
<path d="M487.00,322.50 L489.50,325.00 L487.00,327.50 L484.50,325.00Z" fill="#000"/>
<path d="M487.00,331.30 L489.50,333.80 L487.00,336.30 L484.50,333.80Z" fill="#000"/>
<path d="M487.00,345.50 L489.50,348.00 L487.00,350.50 L484.50,348.00Z" fill="#000"/>
<line x1="473.80" y1="330.50" x2="500.50" y2="330.50" stroke="#000" stroke-width="1.4" />
<text id="E" transform="translate(0.42 423.54) scale(1.0720 1)" font-size="15.47" text-anchor="start" font-weight="bold" fill="#000" stroke="#000" stroke-width="0.25">E</text>
<line x1="50.50" y1="430.00" x2="50.50" y2="479.50" stroke="#000" stroke-width="1.5" />
<line x1="47.90" y1="479.50" x2="52.10" y2="479.50" stroke="#000" stroke-width="1.2" />
<line x1="47.90" y1="430.40" x2="50.50" y2="430.40" stroke="#000" stroke-width="1.3" />
<text id="Eyu50" transform="translate(46.53 432.33) scale(1.3391 1)" font-size="7.34" text-anchor="end" font-weight="bold" fill="#000" stroke="#000" stroke-width="0.25">50</text>
<line x1="47.90" y1="442.50" x2="50.50" y2="442.50" stroke="#000" stroke-width="1.3" />
<text id="Eyu40" transform="translate(46.53 444.43) scale(1.3391 1)" font-size="7.34" text-anchor="end" font-weight="bold" fill="#000" stroke="#000" stroke-width="0.25">40</text>
<line x1="47.90" y1="454.60" x2="50.50" y2="454.60" stroke="#000" stroke-width="1.3" />
<text id="Eyu30" transform="translate(46.53 456.53) scale(1.3391 1)" font-size="7.34" text-anchor="end" font-weight="bold" fill="#000" stroke="#000" stroke-width="0.25">30</text>
<line x1="47.90" y1="466.70" x2="50.50" y2="466.70" stroke="#000" stroke-width="1.3" />
<text id="Eyu20" transform="translate(46.53 468.63) scale(1.3391 1)" font-size="7.34" text-anchor="end" font-weight="bold" fill="#000" stroke="#000" stroke-width="0.25">20</text>
<line x1="47.90" y1="478.80" x2="50.50" y2="478.80" stroke="#000" stroke-width="1.3" />
<text id="Eyu10" transform="translate(46.53 480.73) scale(1.3391 1)" font-size="7.34" text-anchor="end" font-weight="bold" fill="#000" stroke="#000" stroke-width="0.25">10</text>
<line x1="50.50" y1="486.50" x2="50.50" y2="553.20" stroke="#000" stroke-width="1.5" />
<line x1="47.90" y1="486.50" x2="52.10" y2="486.50" stroke="#000" stroke-width="1.3" />
<line x1="47.90" y1="552.50" x2="50.50" y2="552.50" stroke="#000" stroke-width="1.3" />
<text id="Eyl0" transform="translate(45.80 554.29) scale(1.0952 1)" font-size="6.73" text-anchor="end" font-weight="bold" fill="#000" stroke="#000" stroke-width="0.25">0</text>
<line x1="47.90" y1="536.00" x2="50.50" y2="536.00" stroke="#000" stroke-width="1.3" />
<text id="Eyl1" transform="translate(45.80 537.79) scale(1.0952 1)" font-size="6.73" text-anchor="end" font-weight="bold" fill="#000" stroke="#000" stroke-width="0.25">1</text>
<line x1="47.90" y1="519.50" x2="50.50" y2="519.50" stroke="#000" stroke-width="1.3" />
<text id="Eyl2" transform="translate(45.80 521.29) scale(1.0952 1)" font-size="6.73" text-anchor="end" font-weight="bold" fill="#000" stroke="#000" stroke-width="0.25">2</text>
<line x1="47.90" y1="503.00" x2="50.50" y2="503.00" stroke="#000" stroke-width="1.3" />
<text id="Eyl3" transform="translate(45.80 504.79) scale(1.0952 1)" font-size="6.73" text-anchor="end" font-weight="bold" fill="#000" stroke="#000" stroke-width="0.25">3</text>
<text id="Eyl4" transform="translate(45.80 488.29) scale(1.0952 1)" font-size="6.73" text-anchor="end" font-weight="bold" fill="#000" stroke="#000" stroke-width="0.25">4</text>
<line x1="49.80" y1="552.50" x2="253.50" y2="552.50" stroke="#000" stroke-width="1.5" />
<line x1="59.20" y1="552.50" x2="59.20" y2="555.70" stroke="#000" stroke-width="1.3" />
<text id="LE0" transform="translate(61.10 561.40) rotate(-45) scale(1 1)" font-size="9.1" text-anchor="end" stroke="#000" stroke-width="0.24">D10</text>
<rect x="53.40" y="486.50" width="11.60" height="66.00" fill="#000" stroke="none" stroke-width="0" />
<rect x="53.40" y="473.48" width="11.60" height="6.02" fill="#000" stroke="none" stroke-width="0" />
<line x1="76.15" y1="552.50" x2="76.15" y2="555.70" stroke="#000" stroke-width="1.3" />
<text id="LE1" transform="translate(78.05 561.40) rotate(-45) scale(1 1)" font-size="9.1" text-anchor="end" stroke="#000" stroke-width="0.24">WM1361</text>
<rect x="70.35" y="486.50" width="11.60" height="66.00" fill="#000" stroke="none" stroke-width="0" />
<rect x="70.35" y="435.72" width="11.60" height="43.78" fill="#000" stroke="none" stroke-width="0" />
<line x1="93.10" y1="552.50" x2="93.10" y2="555.70" stroke="#000" stroke-width="1.3" />
<text id="LE2" transform="translate(95.00 561.40) rotate(-45) scale(1 1)" font-size="9.1" text-anchor="end" stroke="#000" stroke-width="0.24">501mel</text>
<rect x="87.30" y="486.50" width="11.60" height="66.00" fill="#000" stroke="none" stroke-width="0" />
<rect x="87.30" y="450.37" width="11.60" height="29.13" fill="#000" stroke="none" stroke-width="0" />
<line x1="110.05" y1="552.50" x2="110.05" y2="555.70" stroke="#000" stroke-width="1.3" />
<text id="LE3" transform="translate(111.95 561.40) rotate(-45) scale(1 1)" font-size="9.1" text-anchor="end" stroke="#000" stroke-width="0.24">A375</text>
<rect x="104.25" y="486.50" width="11.60" height="66.00" fill="#000" stroke="none" stroke-width="0" />
<rect x="104.25" y="473.48" width="11.60" height="6.02" fill="#000" stroke="none" stroke-width="0" />
<line x1="127.00" y1="552.50" x2="127.00" y2="555.70" stroke="#000" stroke-width="1.3" />
<line x1="143.95" y1="552.50" x2="143.95" y2="555.70" stroke="#000" stroke-width="1.3" />
<text id="LE5" transform="translate(145.85 561.40) rotate(-45) scale(1 1)" font-size="9.1" text-anchor="end" stroke="#000" stroke-width="0.24">WM98.1</text>
<rect x="138.55" y="526.10" width="10.80" height="26.00" fill="#c4c4c4" stroke="#444" stroke-width="0.8" />
<line x1="160.90" y1="552.50" x2="160.90" y2="555.70" stroke="#000" stroke-width="1.3" />
<text id="LE6" transform="translate(162.80 561.40) rotate(-45) scale(1 1)" font-size="9.1" text-anchor="end" stroke="#000" stroke-width="0.24">WM266.4</text>
<rect x="155.50" y="536.16" width="10.80" height="15.94" fill="#c4c4c4" stroke="#444" stroke-width="0.8" />
<line x1="177.85" y1="552.50" x2="177.85" y2="555.70" stroke="#000" stroke-width="1.3" />
<text id="LE7" transform="translate(179.75 561.40) rotate(-45) scale(1 1)" font-size="9.1" text-anchor="end" stroke="#000" stroke-width="0.24">CJM</text>
<rect x="172.45" y="536.16" width="10.80" height="15.94" fill="#c4c4c4" stroke="#444" stroke-width="0.8" />
<line x1="194.80" y1="552.50" x2="194.80" y2="555.70" stroke="#000" stroke-width="1.3" />
<text id="LE8" transform="translate(196.70 561.40) rotate(-45) scale(1 1)" font-size="9.1" text-anchor="end" stroke="#000" stroke-width="0.24">Mel Juso</text>
<rect x="189.40" y="534.68" width="10.80" height="17.42" fill="#c4c4c4" stroke="#444" stroke-width="0.8" />
<line x1="211.75" y1="552.50" x2="211.75" y2="555.70" stroke="#000" stroke-width="1.3" />
<line x1="228.70" y1="552.50" x2="228.70" y2="555.70" stroke="#000" stroke-width="1.3" />
<text id="LE10" transform="translate(230.60 561.40) rotate(-45) scale(1 1)" font-size="9.1" text-anchor="end" stroke="#000" stroke-width="0.24">All +ve</text>
<rect x="222.90" y="486.50" width="11.60" height="66.00" fill="#000" stroke="none" stroke-width="0" />
<rect x="222.90" y="458.23" width="11.60" height="21.27" fill="#000" stroke="none" stroke-width="0" />
<line x1="245.65" y1="552.50" x2="245.65" y2="555.70" stroke="#000" stroke-width="1.3" />
<text id="LE11" transform="translate(247.55 561.40) rotate(-45) scale(1 1)" font-size="9.1" text-anchor="end" stroke="#000" stroke-width="0.24">All -ve</text>
<rect x="240.25" y="536.00" width="10.80" height="16.10" fill="#c4c4c4" stroke="#444" stroke-width="0.8" />
<line x1="228.70" y1="458.23" x2="228.70" y2="448.90" stroke="#000" stroke-width="1.1" />
<line x1="225.40" y1="448.90" x2="232.00" y2="448.90" stroke="#000" stroke-width="1.1" />
<line x1="245.65" y1="536.00" x2="245.65" y2="534.02" stroke="#000" stroke-width="1.1" />
<line x1="243.15" y1="534.02" x2="248.15" y2="534.02" stroke="#000" stroke-width="1.1" />
<line x1="50.50" y1="536.00" x2="253.50" y2="536.00" stroke="#000" stroke-width="1.0" stroke-dasharray="2,1.6"/>
<rect x="139.60" y="438.00" width="13.60" height="9.60" fill="#000" stroke="none" stroke-width="0" />
<rect x="140.00" y="451.40" width="12.80" height="9.20" fill="#bdbdbd" stroke="#555" stroke-width="0.8" />
<text id="El0" transform="translate(155.54 445.91) scale(1.1765 1)" font-size="9.31" text-anchor="start" font-weight="normal" fill="#000" stroke="#000" stroke-width="0.205">MGMT<tspan font-size="5.59" dx="0.65" dy="-2.79">+</tspan></text>
<text id="El1" transform="translate(155.61 459.59) scale(1.1550 1)" font-size="9.29" text-anchor="start" font-weight="normal" fill="#000" stroke="#000" stroke-width="0.204">MGMT<tspan font-size="5.58" dx="0.65" dy="-2.79">–</tspan></text>
<line x1="236.60" y1="446.00" x2="246.40" y2="446.00" stroke="#000" stroke-width="1.1" />
<line x1="246.40" y1="446.00" x2="246.40" y2="472.00" stroke="#000" stroke-width="1.1" />
<text id="Es" transform="translate(247.01 488.57) scale(1.2791 1)" font-size="11.32" text-anchor="middle" font-weight="bold" fill="#000" stroke="#000" stroke-width="0.25">**</text>
<text id="Eylab" transform="translate(25.17 493.10) rotate(-90) scale(1.0045 1)" font-size="11.69" text-anchor="middle" font-weight="normal" fill="#000" stroke="#000" stroke-width="0.257">Olaparib PF<tspan font-size="8.18" dy="3.04">50</tspan><tspan dy="-3.04"></tspan></text>
<text id="F" transform="translate(296.86 424.50) scale(1.1859 1)" font-size="14.60" text-anchor="start" font-weight="bold" fill="#000" stroke="#000" stroke-width="0.25">F</text>
<text id="Fa375" transform="translate(363.99 427.49) scale(1.0441 1)" font-size="10.78" text-anchor="middle" font-weight="normal" fill="#000" stroke="#000" stroke-width="0.237">A375</text>
<text id="Fmp" transform="translate(361.78 444.23) scale(1.0648 1)" font-size="11.20" text-anchor="middle" font-weight="normal" fill="#000" stroke="#000" stroke-width="0.246">(MGMT<tspan font-size="6.72" dx="0.78" dy="-3.36">+</tspan><tspan dy="3.36">)</tspan></text>
<text id="Fwm9" transform="translate(466.65 428.52) scale(0.9801 1)" font-size="12.04" text-anchor="middle" font-weight="normal" fill="#000" stroke="#000" stroke-width="0.265">WM9</text>
<text id="Fmm" transform="translate(466.97 444.94) scale(1.1566 1)" font-size="10.42" text-anchor="middle" font-weight="normal" fill="#000" stroke="#000" stroke-width="0.229">(MGMT<tspan font-size="6.25" dx="0.73" dy="-3.13">–</tspan><tspan dy="3.13">)</tspan></text>
<text id="FD" transform="translate(306.17 486.89) rotate(-90) scale(0.9132 1)" font-size="11.73" text-anchor="middle" font-weight="normal" fill="#000" stroke="#000" stroke-width="0.258">D</text>
<text id="FLOM" transform="translate(307.61 554.08) rotate(-90) scale(1.0301 1)" font-size="11.70" text-anchor="middle" font-weight="normal" fill="#000" stroke="#000" stroke-width="0.257">LOM</text>
<rect x="315.60" y="453.60" width="99.20" height="65.70" fill="#eeeeee" stroke="#151515" stroke-width="1.8" />
<rect x="315.60" y="520.60" width="99.20" height="64.40" fill="#eeeeee" stroke="#151515" stroke-width="1.8" />
<rect x="419.50" y="453.60" width="98.70" height="65.70" fill="#eeeeee" stroke="#151515" stroke-width="1.8" />
<rect x="419.50" y="520.60" width="98.70" height="64.40" fill="#eeeeee" stroke="#151515" stroke-width="1.8" />
<circle cx="330.6" cy="470.3" r="15.6" fill="#fdfdfd"/>
<circle cx="330.6" cy="470.3" r="14.4" fill="#d0d0d0"/>
<circle cx="330.6" cy="470.3" r="14.4" fill="url(#rgD)" filter="url(#f1)" clip-path="url(#cc)"/>
<circle cx="330.6" cy="470.3" r="14.1" fill="none" stroke="#bdbdbd" stroke-width="0.6"/>
<circle cx="364.3" cy="470.3" r="15.6" fill="#fdfdfd"/>
<circle cx="364.3" cy="470.3" r="14.4" fill="#d0d0d0"/>
<circle cx="364.3" cy="470.3" r="14.4" fill="url(#rgD)" filter="url(#f2)" clip-path="url(#cc)"/>
<circle cx="364.3" cy="470.3" r="14.1" fill="none" stroke="#bdbdbd" stroke-width="0.6"/>
<circle cx="397.6" cy="470.3" r="15.6" fill="#fdfdfd"/>
<circle cx="397.6" cy="470.3" r="14.4" fill="#d0d0d0"/>
<circle cx="397.6" cy="470.3" r="14.4" fill="url(#rgD)" filter="url(#f3)" clip-path="url(#cc)"/>
<circle cx="397.6" cy="470.3" r="14.1" fill="none" stroke="#bdbdbd" stroke-width="0.6"/>
<circle cx="330.6" cy="503.1" r="15.6" fill="#fdfdfd"/>
<circle cx="330.6" cy="503.1" r="14.4" fill="#d0d0d0"/>
<circle cx="330.6" cy="503.1" r="14.4" fill="url(#rgD)" filter="url(#f4)" clip-path="url(#cc)"/>
<circle cx="330.6" cy="503.1" r="14.1" fill="none" stroke="#bdbdbd" stroke-width="0.6"/>
<circle cx="364.3" cy="503.1" r="15.6" fill="#fdfdfd"/>
<circle cx="364.3" cy="503.1" r="14.4" fill="#d0d0d0"/>
<circle cx="364.3" cy="503.1" r="14.4" fill="url(#rgD)" filter="url(#f5)" clip-path="url(#cc)"/>
<circle cx="364.3" cy="503.1" r="14.1" fill="none" stroke="#bdbdbd" stroke-width="0.6"/>
<circle cx="397.6" cy="503.1" r="15.6" fill="#fdfdfd"/>
<circle cx="397.6" cy="503.1" r="14.4" fill="#f3f3f3"/>
<circle cx="397.6" cy="503.1" r="14.1" fill="none" stroke="#bdbdbd" stroke-width="0.6"/>
<circle cx="331.2" cy="537.0" r="15.6" fill="#fdfdfd"/>
<circle cx="331.2" cy="537.0" r="14.4" fill="#d0d0d0"/>
<circle cx="331.2" cy="537.0" r="14.4" fill="url(#rgD)" filter="url(#f6)" clip-path="url(#cc)"/>
<circle cx="331.2" cy="537.0" r="14.1" fill="none" stroke="#bdbdbd" stroke-width="0.6"/>
<circle cx="365.2" cy="537.0" r="15.6" fill="#fdfdfd"/>
<circle cx="365.2" cy="537.0" r="14.4" fill="#d0d0d0"/>
<circle cx="365.2" cy="537.0" r="14.4" fill="url(#rgD)" filter="url(#f7)" clip-path="url(#cc)"/>
<circle cx="365.2" cy="537.0" r="14.1" fill="none" stroke="#bdbdbd" stroke-width="0.6"/>
<circle cx="399.3" cy="537.0" r="15.6" fill="#fdfdfd"/>
<circle cx="399.3" cy="537.0" r="14.4" fill="#d0d0d0"/>
<circle cx="399.3" cy="537.0" r="14.4" fill="url(#rgD)" filter="url(#f8)" clip-path="url(#cc)"/>
<circle cx="399.3" cy="537.0" r="14.1" fill="none" stroke="#bdbdbd" stroke-width="0.6"/>
<circle cx="331.2" cy="569.2" r="15.6" fill="#fdfdfd"/>
<circle cx="331.2" cy="569.2" r="14.4" fill="#e6e6e6"/>
<circle cx="331.2" cy="569.2" r="14.4" fill="url(#rgD)" filter="url(#f9)" clip-path="url(#cc)"/>
<circle cx="331.2" cy="569.2" r="14.1" fill="none" stroke="#bdbdbd" stroke-width="0.6"/>
<circle cx="365.2" cy="569.2" r="15.6" fill="#fdfdfd"/>
<circle cx="365.2" cy="569.2" r="14.4" fill="#f3f3f3"/>
<circle cx="365.2" cy="569.2" r="14.1" fill="none" stroke="#bdbdbd" stroke-width="0.6"/>
<circle cx="399.3" cy="569.2" r="15.6" fill="#fdfdfd"/>
<circle cx="399.3" cy="569.2" r="14.4" fill="#f3f3f3"/>
<circle cx="399.3" cy="569.2" r="14.1" fill="none" stroke="#bdbdbd" stroke-width="0.6"/>
<circle cx="434.9" cy="470.3" r="15.6" fill="#fdfdfd"/>
<circle cx="434.9" cy="470.3" r="14.4" fill="#d6d6d6"/>
<circle cx="434.9" cy="470.3" r="14.4" fill="url(#rgD)" filter="url(#f10)" clip-path="url(#cc)"/>
<circle cx="434.9" cy="470.3" r="14.1" fill="none" stroke="#bdbdbd" stroke-width="0.6"/>
<circle cx="467.7" cy="470.3" r="15.6" fill="#fdfdfd"/>
<circle cx="467.7" cy="470.3" r="14.4" fill="#d6d6d6"/>
<circle cx="467.7" cy="470.3" r="14.4" fill="url(#rgD)" filter="url(#f11)" clip-path="url(#cc)"/>
<circle cx="467.7" cy="470.3" r="14.1" fill="none" stroke="#bdbdbd" stroke-width="0.6"/>
<circle cx="500.5" cy="470.3" r="15.6" fill="#fdfdfd"/>
<circle cx="500.5" cy="470.3" r="14.4" fill="#e6e6e6"/>
<circle cx="500.5" cy="470.3" r="14.4" fill="url(#rgD)" filter="url(#f12)" clip-path="url(#cc)"/>
<circle cx="500.5" cy="470.3" r="14.1" fill="none" stroke="#bdbdbd" stroke-width="0.6"/>
<circle cx="434.9" cy="503.1" r="15.6" fill="#fdfdfd"/>
<circle cx="434.9" cy="503.1" r="14.4" fill="#e2e2e2"/>
<circle cx="434.9" cy="503.1" r="14.4" fill="url(#rgD)" filter="url(#f13)" clip-path="url(#cc)"/>
<circle cx="434.9" cy="503.1" r="14.1" fill="none" stroke="#bdbdbd" stroke-width="0.6"/>
<circle cx="467.7" cy="503.1" r="15.6" fill="#fdfdfd"/>
<circle cx="467.7" cy="503.1" r="14.4" fill="#e6e6e6"/>
<circle cx="467.7" cy="503.1" r="14.1" fill="none" stroke="#bdbdbd" stroke-width="0.6"/>
<circle cx="500.5" cy="503.1" r="15.6" fill="#fdfdfd"/>
<circle cx="500.5" cy="503.1" r="14.4" fill="#ececec"/>
<circle cx="500.5" cy="503.1" r="14.1" fill="none" stroke="#bdbdbd" stroke-width="0.6"/>
<circle cx="435.1" cy="537.0" r="15.6" fill="#fdfdfd"/>
<circle cx="435.1" cy="537.0" r="14.4" fill="#d6d6d6"/>
<circle cx="435.1" cy="537.0" r="14.4" fill="url(#rgD)" filter="url(#f14)" clip-path="url(#cc)"/>
<circle cx="435.1" cy="537.0" r="14.1" fill="none" stroke="#bdbdbd" stroke-width="0.6"/>
<circle cx="467.6" cy="537.0" r="15.6" fill="#fdfdfd"/>
<circle cx="467.6" cy="537.0" r="14.4" fill="#d6d6d6"/>
<circle cx="467.6" cy="537.0" r="14.4" fill="url(#rgD)" filter="url(#f15)" clip-path="url(#cc)"/>
<circle cx="467.6" cy="537.0" r="14.1" fill="none" stroke="#bdbdbd" stroke-width="0.6"/>
<circle cx="500.5" cy="537.0" r="15.6" fill="#fdfdfd"/>
<circle cx="500.5" cy="537.0" r="14.4" fill="#e6e6e6"/>
<circle cx="500.5" cy="537.0" r="14.4" fill="url(#rgD)" filter="url(#f16)" clip-path="url(#cc)"/>
<circle cx="500.5" cy="537.0" r="14.1" fill="none" stroke="#bdbdbd" stroke-width="0.6"/>
<circle cx="435.1" cy="569.2" r="15.6" fill="#fdfdfd"/>
<circle cx="435.1" cy="569.2" r="14.4" fill="#c6c6c6"/>
<circle cx="435.1" cy="569.2" r="14.4" fill="url(#rgD)" filter="url(#f17)" clip-path="url(#cc)"/>
<circle cx="435.1" cy="569.2" r="14.1" fill="none" stroke="#bdbdbd" stroke-width="0.6"/>
<circle cx="467.6" cy="569.2" r="15.6" fill="#fdfdfd"/>
<circle cx="467.6" cy="569.2" r="14.4" fill="#e6e6e6"/>
<circle cx="467.6" cy="569.2" r="14.1" fill="none" stroke="#bdbdbd" stroke-width="0.6"/>
<circle cx="500.5" cy="569.2" r="15.6" fill="#fdfdfd"/>
<circle cx="500.5" cy="569.2" r="14.4" fill="#ececec"/>
<circle cx="500.5" cy="569.2" r="14.1" fill="none" stroke="#bdbdbd" stroke-width="0.6"/>
<circle cx="398.2" cy="503.6" r="1.1" fill="#222"/></svg>
</body></html>
